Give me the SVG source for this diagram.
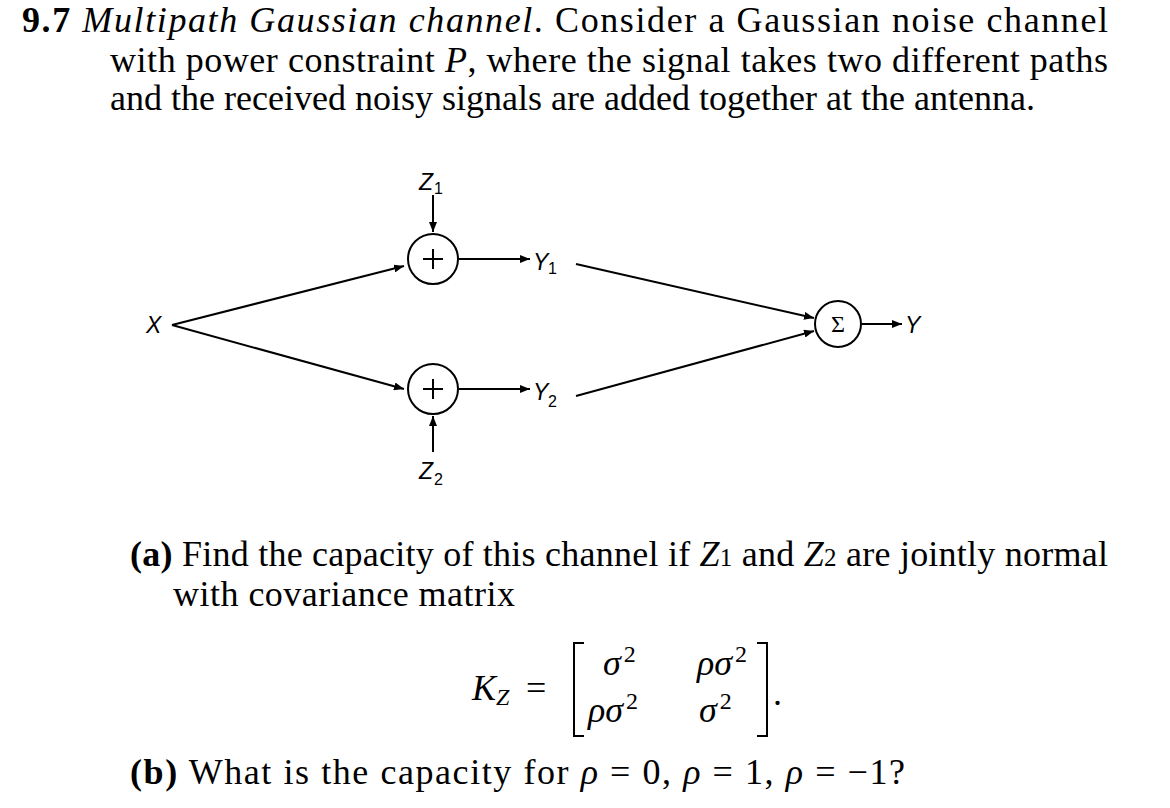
<svg xmlns="http://www.w3.org/2000/svg" width="1170" height="808" viewBox="0 0 1170 808">
<defs><marker id="ah" markerWidth="10" markerHeight="8" refX="10" refY="4" orient="auto" markerUnits="userSpaceOnUse"><path d="M0,0 L10,4 L0,8 z" fill="#000"/></marker></defs>
<style>
.t{font-family:"Liberation Serif",serif;font-size:36px;fill:#000}
.s{font-family:"Liberation Sans",sans-serif;font-size:23px;font-style:italic;fill:#000}
.sub{font-family:"Liberation Sans",sans-serif;font-size:16px;fill:#000}
.c{fill:#fff;stroke:#000;stroke-width:2}
.l{stroke:#000;stroke-width:2;fill:none}
</style>
<rect width="1170" height="808" fill="#fff"/>
<g id="text">
<text class="t" x="22" y="32" textLength="1086" lengthAdjust="spacing"><tspan font-weight="bold">9.7</tspan>  <tspan font-style="italic">Multipath Gaussian channel</tspan>.   Consider a Gaussian noise channel</text>
<text class="t" x="110" y="72" textLength="998" lengthAdjust="spacing">with power constraint <tspan font-style="italic">P</tspan>, where the signal takes two different paths</text>
<text class="t" x="110" y="110" textLength="925" lengthAdjust="spacing">and the received noisy signals are added together at the antenna.</text>
<text class="t" x="130" y="566" textLength="978" lengthAdjust="spacing"><tspan font-weight="bold">(a)</tspan> Find the capacity of this channel if <tspan font-style="italic">Z</tspan><tspan font-size="25">1</tspan> and <tspan font-style="italic">Z</tspan><tspan font-size="25">2</tspan> are jointly normal</text>
<text class="t" x="173" y="606" textLength="342" lengthAdjust="spacing">with covariance matrix</text>
<text class="t" x="472" y="700" font-style="italic">K<tspan font-size="24" dy="5">Z</tspan></text>
<text class="t" x="526" y="700">=</text>
<path class="l" d="M584,643 h-10 v93 h10 M757,643 h10 v93 h-10" stroke-width="2.5"/>
<text class="t" x="603" y="675" font-style="italic">σ<tspan font-size="24" font-style="normal" dx="3" dy="-13">2</tspan></text>
<text class="t" x="697" y="675" font-style="italic">ρσ<tspan font-size="24" font-style="normal" dx="3" dy="-13">2</tspan></text>
<text class="t" x="588" y="722" font-style="italic">ρσ<tspan font-size="24" font-style="normal" dx="3" dy="-13">2</tspan></text>
<text class="t" x="699" y="722" font-style="italic">σ<tspan font-size="24" font-style="normal" dx="3" dy="-13">2</tspan></text>
<text class="t" x="773" y="705">.</text>
<text class="t" x="130" y="784" textLength="775" lengthAdjust="spacing"><tspan font-weight="bold">(b)</tspan> What is the capacity for <tspan font-style="italic">ρ</tspan> = 0, <tspan font-style="italic">ρ</tspan> = 1, <tspan font-style="italic">ρ</tspan> = −1?</text>
</g>
<g id="connectors">
<line class="l" x1="172" y1="325" x2="404" y2="266" marker-end="url(#ah)"/>
<line class="l" x1="172" y1="325" x2="404" y2="389" marker-end="url(#ah)"/>
<line class="l" x1="433" y1="195" x2="433" y2="232" marker-end="url(#ah)"/>
<line class="l" x1="433" y1="452" x2="433" y2="416" marker-end="url(#ah)"/>
<line class="l" x1="459" y1="259" x2="530" y2="259" marker-end="url(#ah)"/>
<line class="l" x1="459" y1="389" x2="530" y2="389" marker-end="url(#ah)"/>
<line class="l" x1="576" y1="264" x2="814" y2="318" marker-end="url(#ah)"/>
<line class="l" x1="576" y1="396" x2="814" y2="331" marker-end="url(#ah)"/>
<line class="l" x1="862" y1="324" x2="902" y2="324" marker-end="url(#ah)"/>
</g>
<g id="X"><text class="s" x="146" y="333">X</text></g>
<g id="Z1"><text class="s" x="419" y="190">Z</text><text class="sub" x="434" y="194">1</text></g>
<g id="Z2"><text class="s" x="419" y="479">Z</text><text class="sub" x="434" y="485">2</text></g>
<g id="add1"><circle class="c" cx="433" cy="259" r="25"/><path class="l" d="M423,259 h20 M433,249 v20"/></g>
<g id="add2"><circle class="c" cx="433" cy="389" r="25"/><path class="l" d="M423,389 h20 M433,379 v20"/></g>
<g id="Y1"><text class="s" x="533" y="270">Y</text><text class="sub" x="548" y="274">1</text></g>
<g id="Y2"><text class="s" x="533" y="400">Y</text><text class="sub" x="548" y="407">2</text></g>
<g id="sum"><circle class="c" cx="838" cy="324" r="23"/><text x="838" y="332" text-anchor="middle" font-family="Liberation Serif,serif" font-size="24">Σ</text></g>
<g id="Y"><text class="s" x="905" y="333">Y</text></g>
</svg>
